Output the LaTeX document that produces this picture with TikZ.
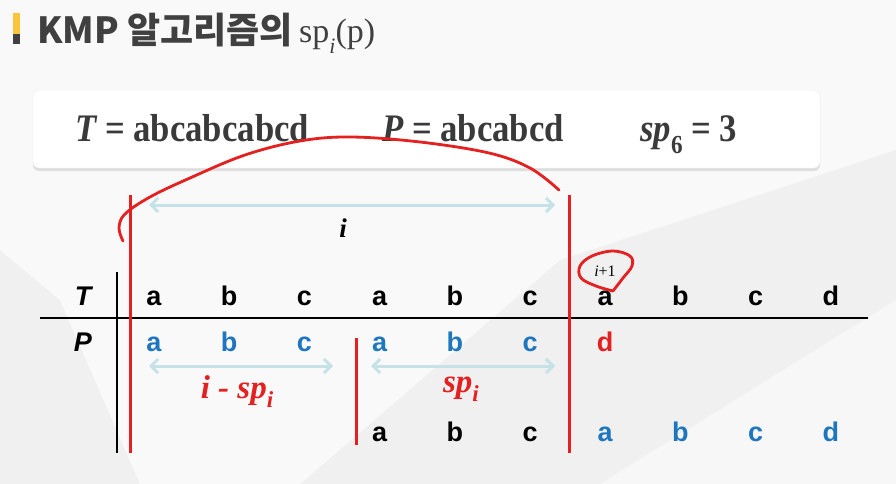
\documentclass[tikz,border=0pt]{standalone}
\usepackage{fontspec}
\setmainfont{Liberation Serif}
\newfontfamily\krfont{Noto Sans CJK KR}
\newfontfamily\gridfont{Liberation Sans}
\newfontfamily\boxfont[FakeStretch=0.89]{Liberation Serif}
\usetikzlibrary{arrows.meta,shadows,calc}
\definecolor{titlegray}{RGB}{64,64,64}
\definecolor{boxgray}{RGB}{58,58,58}
\definecolor{pblue}{RGB}{30,118,190}
\definecolor{pred}{RGB}{228,32,32}
\definecolor{spanblue}{RGB}{196,226,232}
\definecolor{baryellow}{RGB}{250,196,60}
\definecolor{bggray}{RGB}{240,240,240}
\tikzset{
	letter/.style={font=\gridfont\bfseries\fontsize{27}{27}\selectfont,anchor=base,inner sep=0pt},
	span/.style={spanblue,line width=3pt,{Straight Barb[length=7pt,width=14pt]}-{Straight Barb[length=7pt,width=14pt]}},
	cut/.style={pred,line width=3pt},
	boxtext/.style={font=\boxfont\bfseries\fontsize{39}{39}\selectfont,text=boxgray,anchor=base west,inner sep=0pt},
	redlabel/.style={font=\bfseries\itshape\fontsize{33}{33}\selectfont,text=pred,anchor=base,inner sep=0pt},
	scribble/.style={pred,line width=2.8pt,line cap=round,line join=round},
}
\newcommand{\lowsub}[2]{\raisebox{-0.3em}{\fontsize{#1}{#1}\selectfont #2}}
\begin{document}
\begin{tikzpicture}[x=1pt,y=-1pt]
	\useasboundingbox (0,0) rectangle (896,484);
	% background
	\fill[bggray] (0,0) rectangle (896,484);
	\fill[white,opacity=0.6] (0,0) -- (896,0) -- (896,150) -- (560,260) -- (300,484) -- (140,484) -- (60,300) -- (0,250) -- cycle;
	\fill[white,opacity=0.5] (600,484) -- (896,300) -- (896,484) -- cycle;
	% title
	\fill[baryellow] (13,13) rectangle (20,34);
	\fill[titlegray] (13,34) rectangle (20,44);
	\node[anchor=base west,inner sep=0pt,text=titlegray] (title) at (37,44) {\krfont\bfseries\fontsize{36}{36}\selectfont KMP 알고리즘의};
	\node[anchor=base west,inner sep=0pt,text=titlegray] (titlesp) at (299,43) {\fontsize{34}{34}\selectfont sp\lowsub{22}{\itshape i}(p)};
	% definition box
	\node[draw=black!8,fill=white,rounded corners=6pt,minimum width=787pt,minimum height=78pt,
		drop shadow={opacity=0.22,shadow xshift=0pt,shadow yshift=-3pt}] (defbox) at (426.5,129) {};
	\node[boxtext] (deft) at (75,142) {\itshape T\upshape{} = abcabcabcd};
	\node[boxtext] (defp) at (382,142) {\itshape P\upshape{} = abcabcd};
	\node[boxtext] (defsp) at (640,142) {\itshape sp\upshape\lowsub{26}{6} = 3};
	% table
	\coordinate (rowl) at (40,318);
	\coordinate (rowr) at (868,318);
	\draw[line width=1.8pt] (rowl) -- (rowr);
	\coordinate (sept) at (117,272);
	\coordinate (sepb) at (117,453);
	\draw[line width=1.5pt] (sept) -- (sepb);
	\node[letter,font=\gridfont\bfseries\itshape\fontsize{27}{27}\selectfont] (lt) at (83,305) {T};
	\node[letter,font=\gridfont\bfseries\itshape\fontsize{27}{27}\selectfont] (lp) at (83,351) {P};
	\foreach \ch [count=\k] in {a,b,c,a,b,c,a,b,c,d}
		\node[letter] (t\k) at ({154+75.2*(\k-1)},305) {\ch};
	\foreach \ch [count=\k] in {a,b,c,a,b,c}
		\node[letter,pblue] (p\k) at ({154+75.2*(\k-1)},351) {\ch};
	\node[letter,pred] (p7) at ({154+75.2*6},351) {d};
	\foreach \ch [count=\k from 4] in {a,b,c}
		\node[letter] (s\k) at ({154+75.2*(\k-1)},441) {\ch};
	\foreach \ch [count=\k from 7] in {a,b,c,d}
		\node[letter,pblue] (s\k) at ({154+75.2*(\k-1)},441) {\ch};
	% cuts
	\coordinate (cutla) at (130,195);
	\coordinate (cutlb) at (130,453);
	\coordinate (cutra) at (569,195);
	\coordinate (cutrb) at (569,453);
	\coordinate (cutma) at (356,338);
	\coordinate (cutmb) at (356,445);
	\draw[cut] (cutla) -- (cutlb);
	\draw[cut] (cutra) -- (cutrb);
	\draw[cut] (cutma) -- (cutmb);
	% spans
	\coordinate (ia) at (149,205);
	\coordinate (ib) at (555,205);
	\draw[span] (ia) -- (ib);
	\node[anchor=base,inner sep=0pt,font=\bfseries\itshape\fontsize{27}{27}\selectfont] (ilabel) at (343,237) {i};
	\coordinate (da) at (149,366);
	\coordinate (db) at (333,366);
	\coordinate (sa) at (371,366);
	\coordinate (sb) at (555,366);
	\draw[span] (da) -- (db);
	\draw[span] (sa) -- (sb);
	\node[redlabel] (difflabel) at (237,398) {i - sp\lowsub{23}{i}};
	\node[redlabel] (splabel) at (461,392) {sp\lowsub{23}{i}};
	% pen marks
	\draw[scribble] plot[smooth,tension=0.6] coordinates {(123,241) (119,228) (125,214) (150,197) (190,178) (245,155) (300,141) (351,137) (420,142) (489,153) (530,168) (559,190)};
	\draw[scribble] plot[smooth,tension=0.6] coordinates {(613,291) (596,286) (581,278) (580,266) (592,256) (613,251) (630,256) (632,266) (623,278) (613,291)};
	\node[inner sep=0pt,font=\fontsize{16}{16}\selectfont] (next) at (605,271) {\itshape i\upshape+1};
\end{tikzpicture}
\end{document}
